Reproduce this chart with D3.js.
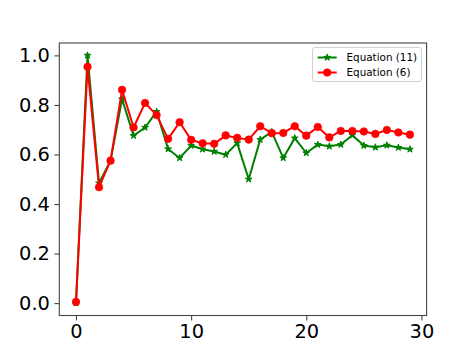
<!DOCTYPE html>
<html>
<head>
<meta charset="utf-8">
<script src="https://cdn.jsdelivr.net/npm/d3@7"></script>
<style>
  html, body { margin: 0; padding: 0; background: #fff; }
  svg { display: block; font-family: "DejaVu Sans", sans-serif; }
</style>
</head>
<body>
<svg id="chart" width="474" height="355"></svg>
<script>
const iterations = d3.range(0, 30);
const eq11 = [0.0, 1.0, 0.484, 0.575, 0.824, 0.676, 0.709, 0.773, 0.622, 0.586,
              0.636, 0.621, 0.612, 0.599, 0.646, 0.5, 0.66, 0.691, 0.586, 0.666,
              0.606, 0.64, 0.633, 0.64, 0.678, 0.636, 0.629, 0.637, 0.628, 0.621];
const eq6 = [0.005, 0.954, 0.468, 0.575, 0.861, 0.709, 0.808, 0.759, 0.663, 0.73,
             0.659, 0.645, 0.643, 0.677, 0.667, 0.66, 0.714, 0.686, 0.687, 0.714,
             0.676, 0.711, 0.669, 0.695, 0.695, 0.693, 0.683, 0.699, 0.689, 0.68];
const xTicks = [0, 10, 20, 30];
const yTicks = [0.0, 0.2, 0.4, 0.6, 0.8, 1.0];
const seriesNames = ["Equation (11)", "Equation (6)"];

const svg = d3.select("#chart");
const L = 59.3, R = 426.6, T = 43, B = 315.5;

const x = d3.scaleLinear().domain([-1.45, 30.45]).range([L, R]);
const y = d3.scaleLinear().domain([-0.05, 1.05]).range([B, T]);

const fontPx = 19.4;
const axisColor = "#444";
const xAxis = d3.axisBottom(x).tickValues(xTicks).tickFormat(d3.format("d"))
  .tickSizeInner(4.9).tickSizeOuter(0).tickPadding(4);
const yAxis = d3.axisLeft(y).tickValues(yTicks).tickFormat(d3.format(".1f"))
  .tickSizeInner(4.9).tickSizeOuter(0).tickPadding(4.5);

const gx = svg.append("g").attr("transform", `translate(0,${B})`).call(xAxis);
const gy = svg.append("g").attr("transform", `translate(${L},0)`).call(yAxis);
[gx, gy].forEach(g => {
  g.select(".domain").remove();
  g.selectAll(".tick line").attr("stroke", axisColor).attr("stroke-width", 1.1);
  g.selectAll(".tick text").attr("fill", "#000")
    .style("font-family", "'DejaVu Sans', sans-serif").style("font-size", fontPx + "px");
});

// plot lines
const line = d3.line().x((d, i) => x(iterations[i])).y(d => y(d));
const series = [
  { name: seriesNames[0], values: eq11, color: "#008000", marker: "star" },
  { name: seriesNames[1], values: eq6, color: "#ff0000", marker: "circle" }
];

const plot = svg.append("g");
function drawMarker(g, type, cx, cy, color) {
  if (type === "circle") {
    g.append("circle").attr("cx", cx).attr("cy", cy).attr("r", 3.8)
      .attr("fill", color).attr("stroke", color).attr("stroke-width", 0.6);
  } else {
    g.append("path").attr("d", d3.symbol().type(d3.symbolStar).size(14)())
      .attr("transform", `translate(${cx},${cy})`)
      .attr("fill", color).attr("stroke", color).attr("stroke-width", 1);
  }
}
series.forEach(s => {
  const g = plot.append("g");
  g.append("path").datum(s.values).attr("d", line)
    .attr("fill", "none").attr("stroke", s.color).attr("stroke-width", 2)
    .attr("stroke-linejoin", "round");
  s.values.forEach((v, i) => drawMarker(g, s.marker, x(iterations[i]), y(v), s.color));
});

// frame
svg.append("rect").attr("x", L).attr("y", T).attr("width", R - L).attr("height", B - T)
  .attr("fill", "none").attr("stroke", axisColor).attr("stroke-width", 1.1);

// legend
const lg = svg.append("g");
lg.append("rect").attr("x", 312.5).attr("y", 47.5).attr("width", 109).attr("height", 34)
  .attr("rx", 2.5).attr("fill", "#fff").attr("fill-opacity", 0.8)
  .attr("stroke", "#d0d0d0").attr("stroke-width", 1);
series.forEach((s, k) => {
  const cy = 57.5 + k * 15;
  lg.append("line").attr("x1", 317.7).attr("x2", 336.7).attr("y1", cy).attr("y2", cy)
    .attr("stroke", s.color).attr("stroke-width", 2);
  drawMarker(lg, s.marker, 327.2, cy, s.color);
  lg.append("text").attr("x", 346.5).attr("y", cy).attr("dy", "0.35em")
    .style("font-size", "10.4px").attr("fill", "#000").text(s.name);
});
</script>
</body>
</html>
